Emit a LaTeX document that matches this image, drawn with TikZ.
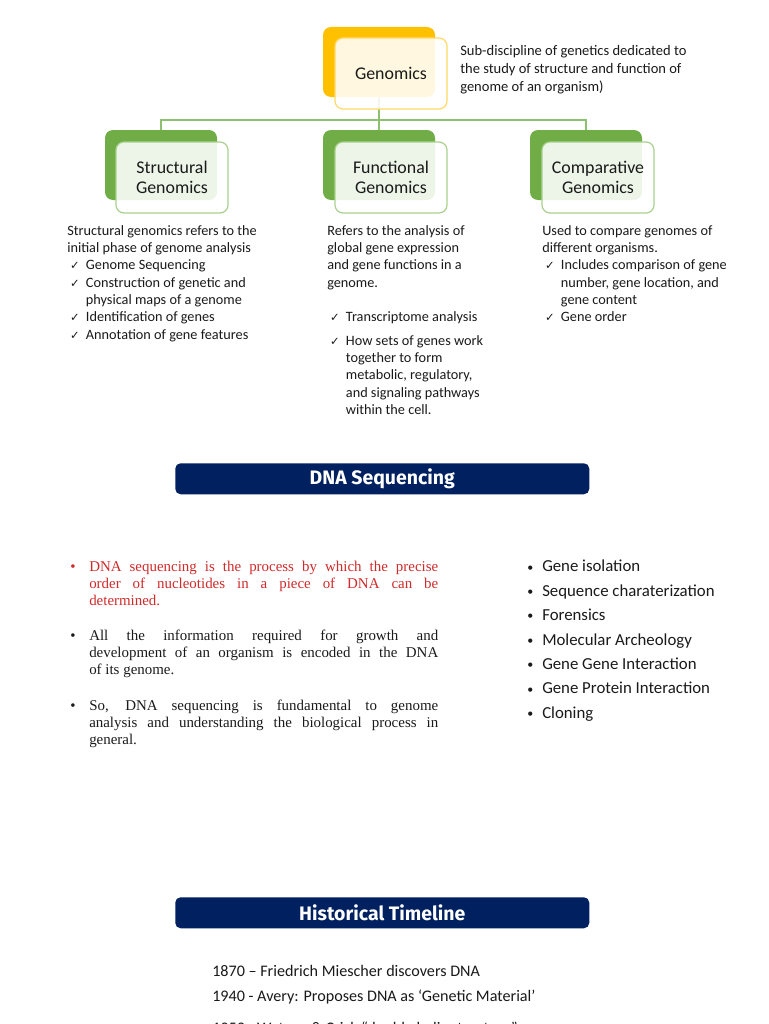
\documentclass[tikz,border=0pt]{standalone}
\usepackage{fontspec}
\setmainfont{Carlito}
\newfontfamily\bookserif{Liberation Serif}
\newfontfamily\bannerfont{Fira Sans}
\newfontfamily\symbfont{DejaVu Sans}
\definecolor{orangeback}{HTML}{FFC000}
\definecolor{yellowedge}{HTML}{FFD966}
\definecolor{greenback}{HTML}{70AD47}
\definecolor{greenedge}{HTML}{A9D18E}
\definecolor{connline}{HTML}{8CC170}
\definecolor{navy}{HTML}{002060}
\definecolor{redtext}{HTML}{D02A2A}
\definecolor{bodytext}{HTML}{1A1A1A}
\newcommand{\ckmark}{\hspace*{2.2pt}\makebox[11.8pt][l]{\symbfont\fontsize{8.6}{9}\selectfont ✓}}
\newcommand{\ckgap}{\hspace*{14pt}}
\newcommand{\rbul}{\makebox[11.25pt][l]{\fontsize{9}{9}\selectfont\raisebox{0.6pt}{•}}}
\tikzset{
  backbox/.style={rounded corners=6pt, draw=none, inner sep=0pt, outer sep=0pt,
    minimum width=84pt, minimum height=52.5pt, anchor=north west},
  frontbox/.style={rounded corners=6pt, line width=0.9pt, inner sep=0pt, outer sep=0pt,
    fill=white, fill opacity=0.88, text opacity=1, text=bodytext,
    minimum width=84pt, minimum height=53.25pt, anchor=north west, align=center,
    font=\fontsize{13.4}{15}\selectfont},
  connector/.style={draw=connline, line width=0.9pt},
  bodyblock/.style={anchor=north west, inner sep=0pt, align=left, text=bodytext,
    font=\fontsize{10.7}{13}\selectfont},
  bannerbox/.style={fill=navy, rounded corners=4pt, inner sep=0pt, anchor=north west,
    minimum width=310.5pt, minimum height=23.25pt, text=white,
    font=\bannerfont\bfseries\fontsize{14.6}{16}\selectfont},
  serifpara/.style={anchor=north west, inner sep=0pt, text width=261.75pt, align=justify,
    font=\bookserif\fontsize{11.2}{12.75}\selectfont},
  bulletdot/.style={anchor=north west, inner sep=0pt, font=\bookserif\fontsize{11.2}{12.75}\selectfont},
  rightlist/.style={anchor=north west, inner sep=0pt, align=left, text=bodytext,
    font=\fontsize{12.6}{18.3}\selectfont},
  timeline/.style={anchor=north west, inner sep=0pt, align=left, text=bodytext,
    font=\fontsize{12.1}{18.75}\selectfont}
}
\begin{document}
\begin{tikzpicture}[x=0.75pt,y=-0.75pt]
\useasboundingbox (0,0) rectangle (768,1024);
\clip (0,0) rectangle (768,1024);
\fill[white] (0,0) rectangle (768,1024);
% back boxes
\node[backbox, fill=orangeback] (gb) at (323,27) {};
\node[backbox, fill=greenback] (sb) at (105,130) {};
\node[backbox, fill=greenback] (fb) at (323,130) {};
\node[backbox, fill=greenback] (cb) at (530,130) {};
% connectors
\coordinate (bus) at (379,120);
\draw[connector] (gb.south) -- (bus);
\draw[connector] (bus) -| (sb.north);
\draw[connector] (bus) -- (fb.north);
\draw[connector] (bus) -| (cb.north);
% front boxes
\node[frontbox, draw=yellowedge] (gf) at (335,38) {Genomics};
\node[frontbox, draw=greenedge] (sf) at (116,142) {Structural\\Genomics};
\node[frontbox, draw=greenedge] (ff) at (335,142) {Functional\\Genomics};
\node[frontbox, draw=greenedge] (cf) at (542,142) {Comparative\\Genomics};
% description
\node[bodyblock, font=\fontsize{10.9}{13.5}\selectfont] (gdesc) at (460,45)
  {Sub-discipline of genetics dedicated to\\the study of structure and function of\\genome of an organism)};
% structural text
\node[bodyblock] (stext) at (67,225)
  {Structural genomics refers to the\\
   initial phase of genome analysis\\
   \ckmark Genome Sequencing\\
   \ckmark Construction of genetic and\\
   \ckgap physical maps of a genome\\
   \ckmark Identification of genes\\
   \ckmark Annotation of gene features};
% functional text
\node[bodyblock] (ftext) at (327,225)
  {Refers to the analysis of\\
   global gene expression\\
   and gene functions in a\\
   genome.\\[12.5pt]
   \ckmark Transcriptome analysis\\[5pt]
   \ckmark How sets of genes work\\
   \ckgap together to form\\
   \ckgap metabolic, regulatory,\\
   \ckgap and signaling pathways\\
   \ckgap within the cell.};
% comparative text
\node[bodyblock] (ctext) at (542,225)
  {Used to compare genomes of\\
   different organisms.\\
   \ckmark Includes comparison of gene\\
   \ckgap number, gene location, and\\
   \ckgap gene content\\
   \ckmark Gene order};
% DNA sequencing banner
\node[bannerbox] (dnabanner) at (175,463) {DNA Sequencing};
% left paragraphs
\node[bulletdot, text=redtext] (b1) at (70,559) {\strut•};
\node[serifpara, text=redtext] (p1) at (89,559)
  {\strut DNA sequencing is the process by which the precise\linebreak
   order of nucleotides in a piece of DNA can be\linebreak determined.};
\node[bulletdot, text=bodytext] (b2) at (70,628) {\strut•};
\node[serifpara, text=bodytext] (p2) at (89,628)
  {\strut All the information required for growth and\linebreak
   development of an organism is encoded in the DNA\linebreak of its genome.};
\node[bulletdot, text=bodytext] (b3) at (70,698) {\strut•};
\node[serifpara, text=bodytext] (p3) at (89,698)
  {\strut So, DNA sequencing is fundamental to genome\linebreak
   analysis and understanding the biological process in\linebreak general.};
% right list
\node[rightlist] (rlist) at (527,560)
  {\rbul Gene isolation\\
   \rbul Sequence charaterization\\
   \rbul Forensics\\
   \rbul Molecular Archeology\\
   \rbul Gene Gene Interaction\\
   \rbul Gene Protein Interaction\\
   \rbul Cloning};
% timeline banner
\node[bannerbox] (histbanner) at (175,897) {Historical Timeline};
\node[timeline] (tl) at (212,965)
  {1870 – Friedrich Miescher discovers DNA\\
   1940 - Avery: Proposes DNA as ‘Genetic Material’\\[5pt]
   1953 - Watson \& Crick “double helix structure”};
\end{tikzpicture}
\end{document}
